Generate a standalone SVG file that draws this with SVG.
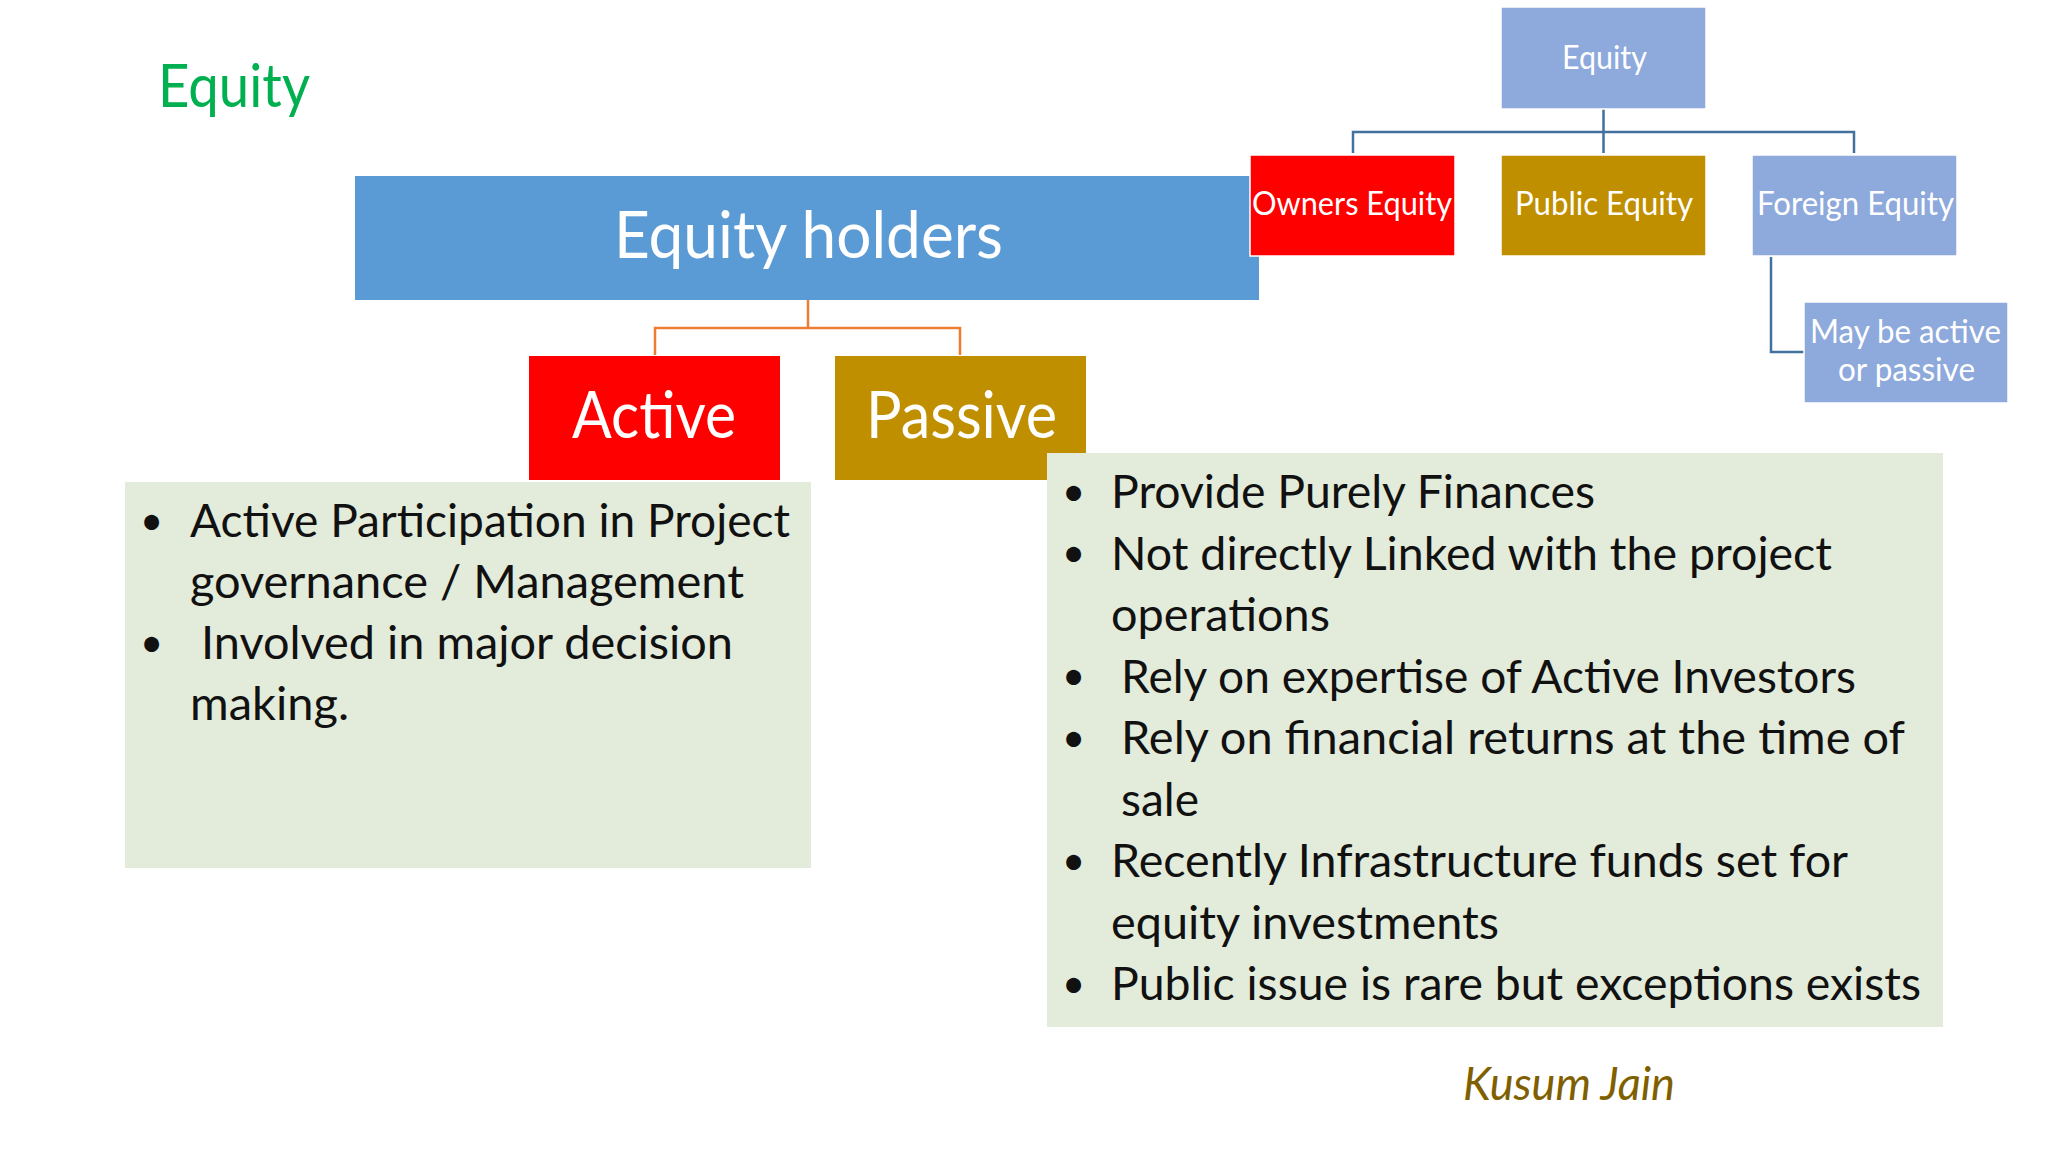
<svg xmlns="http://www.w3.org/2000/svg" width="2048" height="1152" viewBox="0 0 2048 1152">
<style>
text{font-family:"Lato","Open Sans","Liberation Sans",sans-serif}
.w{fill:#ffffff}
.b{fill:#111111;font-size:47px}
.dot{fill:#111111;font-size:40px}
.sm{font-size:32px}
.conn-b{fill:none;stroke:#41719C;stroke-width:2.5}
.conn-o{fill:none;stroke:#ED7D31;stroke-width:2.5}
.panel{fill:#E3EBDA}
</style>
<rect width="2048" height="1152" fill="#ffffff"/>
<text id="title" x="158" y="107" font-size="60" fill="#00B050" textLength="152" lengthAdjust="spacingAndGlyphs">Equity</text>

<g id="connectors">
  <path class="conn-b" d="M1603.5 109 V132 M1353 153 V132 H1854 V153 M1603.5 132 V153"/>
  <path class="conn-b" d="M1771 257 V352 H1804"/>
  <path class="conn-o" d="M808 300 V328 M655 355 V328 H960 V355"/>
</g>

<g id="equity-holders">
  <rect x="355" y="176" width="904" height="124" fill="#5B9BD5"/>
  <text class="w" x="614" y="258" font-size="66" textLength="389" lengthAdjust="spacingAndGlyphs">Equity holders</text>
</g>

<g id="equity-top">
  <rect x="1501" y="7" width="205" height="102" fill="#8EA9DB" stroke="#ffffff" stroke-width="1.5"/>
  <text class="w sm" x="1562" y="69" textLength="85" lengthAdjust="spacingAndGlyphs">Equity</text>
</g>
<g id="owners-equity">
  <rect x="1250" y="155" width="205" height="101" fill="#FF0000" stroke="#ffffff" stroke-width="1.5"/>
  <text class="w sm" x="1252" y="215" textLength="200" lengthAdjust="spacingAndGlyphs">Owners Equity</text>
</g>
<g id="public-equity">
  <rect x="1501" y="155" width="205" height="101" fill="#BF8F00" stroke="#ffffff" stroke-width="1.5"/>
  <text class="w sm" x="1515" y="215" textLength="178" lengthAdjust="spacingAndGlyphs">Public Equity</text>
</g>
<g id="foreign-equity">
  <rect x="1752" y="155" width="205" height="101" fill="#8EA9DB" stroke="#ffffff" stroke-width="1.5"/>
  <text class="w sm" x="1757" y="215" textLength="197" lengthAdjust="spacingAndGlyphs">Foreign Equity</text>
</g>
<g id="may-be-active">
  <rect x="1804" y="302" width="204" height="101" fill="#8EA9DB" stroke="#ffffff" stroke-width="1.5"/>
  <text class="w sm" x="1810" y="343" textLength="191" lengthAdjust="spacingAndGlyphs">May be active</text>
  <text class="w sm" x="1838" y="381" textLength="137" lengthAdjust="spacingAndGlyphs">or passive</text>
</g>

<g id="active">
  <rect x="529" y="356" width="251" height="124" fill="#FF0000"/>
  <text class="w" x="572" y="438" font-size="66" textLength="164" lengthAdjust="spacingAndGlyphs">Active</text>
</g>
<g id="passive">
  <rect x="835" y="356" width="251" height="124" fill="#BF8F00"/>
  <text class="w" x="866" y="438" font-size="66" textLength="191" lengthAdjust="spacingAndGlyphs">Passive</text>
</g>

<g id="active-notes">
  <rect class="panel" x="125" y="482" width="686" height="386"/>
  <text class="dot" x="140" y="535">•</text>
  <text class="b" x="190" y="537" textLength="600" lengthAdjust="spacingAndGlyphs">Active Participation in Project</text>
  <text class="b" x="190" y="598" textLength="554" lengthAdjust="spacingAndGlyphs">governance / Management</text>
  <text class="dot" x="140" y="657">•</text>
  <text class="b" x="201" y="659" textLength="532" lengthAdjust="spacingAndGlyphs">Involved in major decision</text>
  <text class="b" x="190" y="720" textLength="159" lengthAdjust="spacingAndGlyphs">making.</text>
</g>

<g id="passive-notes">
  <rect class="panel" x="1047" y="453" width="896" height="574"/>
  <text class="dot" x="1062" y="506">•</text>
  <text class="b" x="1111" y="508" textLength="484" lengthAdjust="spacingAndGlyphs">Provide Purely Finances</text>
  <text class="dot" x="1062" y="567">•</text>
  <text class="b" x="1111" y="569.5" textLength="721" lengthAdjust="spacingAndGlyphs">Not directly Linked with the project</text>
  <text class="b" x="1111" y="631" textLength="219" lengthAdjust="spacingAndGlyphs">operations</text>
  <text class="dot" x="1062" y="690">•</text>
  <text class="b" x="1121" y="692.5" textLength="735" lengthAdjust="spacingAndGlyphs">Rely on expertise of Active Investors</text>
  <text class="dot" x="1062" y="752">•</text>
  <text class="b" x="1121" y="754" textLength="784" lengthAdjust="spacingAndGlyphs">Rely on financial returns at the time of</text>
  <text class="b" x="1121" y="815.5" textLength="78" lengthAdjust="spacingAndGlyphs">sale</text>
  <text class="dot" x="1062" y="875">•</text>
  <text class="b" x="1111" y="877" textLength="737" lengthAdjust="spacingAndGlyphs">Recently Infrastructure funds set for</text>
  <text class="b" x="1111" y="938.5" textLength="388" lengthAdjust="spacingAndGlyphs">equity investments</text>
  <text class="dot" x="1062" y="998">•</text>
  <text class="b" x="1111" y="1000" textLength="810" lengthAdjust="spacingAndGlyphs">Public issue is rare but exceptions exists</text>
</g>

<text id="author" x="1463" y="1100" font-family="Liberation Serif, serif" font-style="italic" font-size="46" fill="#7F6000" textLength="212" lengthAdjust="spacingAndGlyphs">Kusum Jain</text>
</svg>
